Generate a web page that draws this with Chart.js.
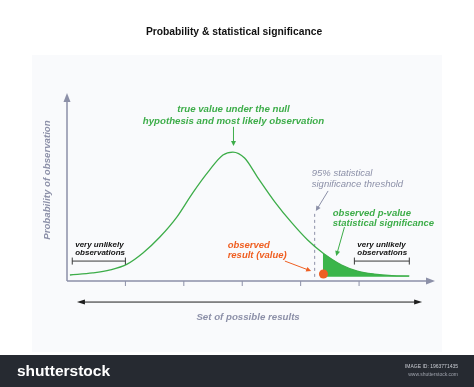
<!DOCTYPE html>
<html>
<head>
<meta charset="utf-8">
<script src="https://cdn.jsdelivr.net/npm/chart.js"></script>
<style>
  html, body { margin: 0; padding: 0; background: #fff; }
  canvas { display: block; }
</style>
</head>
<body>
<canvas id="chart" width="474" height="387"></canvas>
<script>
// Distribution of possible results under the null hypothesis.
// x: position along "set of possible results", y: probability (0..100)
const curveX = [0.05, 0.44, 0.74, 1.03, 1.30, 1.59, 1.88, 2.15, 2.44, 2.67, 2.84,
                3.04, 3.26, 3.56, 3.85, 4.12, 4.38, 4.70, 4.97, 5.26, 5.56, 5.86];
const curveY = [3.2, 4.3, 5.9, 9.0, 14.9, 23.4, 34.0, 46.8, 59.0, 67.0, 68.6,
                65.4, 55.3, 42.0, 30.9, 21.8, 14.9, 8.5, 5.3, 3.7, 2.9, 2.7];
const xTicks = [1, 2, 3, 4, 5];
const tailFrom = 4.38;          // observed p-value area starts here
const tailFloor = 2.2;
const thresholdX = 4.24;        // 95% significance threshold
const thresholdTop = 36.2;
const observed = { x: 4.39, y: 3.7 };

const GREEN = '#3dad49';
const ORANGE = '#ef5f22';
const GREY = '#8c90a8';
const FONT = '"Liberation Sans", Arial, sans-serif';

const curve = curveX.map((x, i) => ({ x, y: curveY[i] }));
const tail = curve.filter(p => p.x >= tailFrom);

function arrow(ctx, x1, y1, x2, y2, color, len, half, width) {
    const a = Math.atan2(y2 - y1, x2 - x1);
    ctx.save();
    ctx.strokeStyle = color;
    ctx.fillStyle = color;
    ctx.lineWidth = width || 1;
    ctx.beginPath();
    ctx.moveTo(x1, y1);
    ctx.lineTo(x2 - Math.cos(a) * len * 0.8, y2 - Math.sin(a) * len * 0.8);
    ctx.stroke();
    ctx.beginPath();
    ctx.moveTo(x2, y2);
    ctx.lineTo(x2 - Math.cos(a) * len - Math.sin(a) * half, y2 - Math.sin(a) * len + Math.cos(a) * half);
    ctx.lineTo(x2 - Math.cos(a) * len + Math.sin(a) * half, y2 - Math.sin(a) * len - Math.cos(a) * half);
    ctx.closePath();
    ctx.fill();
    ctx.restore();
}

function text(ctx, str, x, y, font, color, align) {
    ctx.font = font;
    ctx.fillStyle = color;
    ctx.textAlign = align || 'left';
    ctx.textBaseline = 'middle';
    ctx.fillText(str, x, y);
}

function bracket(ctx, x1, x2, y) {
    ctx.save();
    ctx.strokeStyle = '#3a3a3a';
    ctx.lineWidth = 1;
    ctx.beginPath();
    ctx.moveTo(x1, y); ctx.lineTo(x2, y);
    ctx.moveTo(x1, y - 3.5); ctx.lineTo(x1, y + 3.5);
    ctx.moveTo(x2, y - 3.5); ctx.lineTo(x2, y + 3.5);
    ctx.stroke();
    ctx.restore();
}

const backdrop = {
    id: 'backdrop',
    beforeDraw(chart) {
        const ctx = chart.ctx;
        ctx.save();
        ctx.fillStyle = '#fff';
        ctx.fillRect(0, 0, chart.width, chart.height);
        ctx.fillStyle = '#f9fafc';
        ctx.fillRect(32, 55, 410, 297);
        // footer bar
        ctx.fillStyle = '#262a31';
        ctx.fillRect(0, 355, chart.width, 32);
        text(ctx, 'shutterstock', 17, 372, 'bold 15.5px ' + FONT, '#fff');
        text(ctx, 'IMAGE ID: 1963771435', 458, 367, '5px ' + FONT, '#c9ccd3', 'right');
        text(ctx, 'www.shutterstock.com', 458, 375, '5px ' + FONT, '#9ea2ab', 'right');
        // title
        text(ctx, 'Probability & statistical significance', 234, 32, 'bold 10.3px ' + FONT, '#111', 'center');
        ctx.restore();
    },
    beforeDatasetsDraw(chart) {
        const ctx = chart.ctx;
        const X = v => chart.scales.x.getPixelForValue(v);
        const Y = v => chart.scales.y.getPixelForValue(v);
        const x0 = X(0), y0 = Y(0);
        ctx.save();
        ctx.strokeStyle = GREY;
        ctx.lineWidth = 1.5;
        ctx.beginPath();
        ctx.moveTo(x0, y0); ctx.lineTo(x0, Y(100) + 6);
        ctx.moveTo(x0, y0); ctx.lineTo(X(6.3) - 6, y0);
        ctx.stroke();
        ctx.fillStyle = GREY;
        ctx.beginPath();
        ctx.moveTo(x0, Y(100)); ctx.lineTo(x0 - 3.5, Y(100) + 9); ctx.lineTo(x0 + 3.5, Y(100) + 9);
        ctx.closePath(); ctx.fill();
        ctx.beginPath();
        ctx.moveTo(X(6.3), y0); ctx.lineTo(X(6.3) - 9, y0 - 3.5); ctx.lineTo(X(6.3) - 9, y0 + 3.5);
        ctx.closePath(); ctx.fill();
        ctx.lineWidth = 1;
        ctx.beginPath();
        xTicks.forEach(t => { ctx.moveTo(X(t), y0); ctx.lineTo(X(t), y0 + 5); });
        ctx.stroke();
        ctx.restore();
    },
    afterDatasetsDraw(chart) {
        const ctx = chart.ctx;
        const X = v => chart.scales.x.getPixelForValue(v);
        const Y = v => chart.scales.y.getPixelForValue(v);
        const bi = s => 'italic bold ' + s + 'px ' + FONT;

        // peak annotation
        text(ctx, 'true value under the null', X(2.85), Y(91.5), bi(9.7), GREEN, 'center');
        text(ctx, 'hypothesis and most likely observation', X(2.85), Y(85.1), bi(9.7), GREEN, 'center');
        arrow(ctx, X(2.85), Y(82), X(2.85), Y(71.8), GREEN, 5, 2.5, 1);

        // threshold annotation
        text(ctx, '95% statistical', X(4.19), Y(57.4), 'italic 9.5px ' + FONT, GREY);
        text(ctx, 'significance threshold', X(4.19), Y(51.6), 'italic 9.5px ' + FONT, GREY);
        arrow(ctx, X(4.47), Y(47.9), X(4.26), Y(37.2), GREY, 5, 2.5, 1);

        // p-value annotation
        text(ctx, 'observed p-value', X(4.55), Y(36.2), bi(9.5), GREEN);
        text(ctx, 'statistical significance', X(4.55), Y(30.9), bi(9.5), GREEN);
        arrow(ctx, X(4.75), Y(28.7), X(4.61), Y(13.3), GREEN, 5, 2.5, 1);

        // observed result annotation
        text(ctx, 'observed', X(2.75), Y(19.1), bi(9.5), ORANGE);
        text(ctx, 'result (value)', X(2.75), Y(13.8), bi(9.5), ORANGE);
        arrow(ctx, X(3.73), Y(10.6), X(4.18), Y(5.3), ORANGE, 5, 2.5, 1);

        // very unlikely observations, both tails
        text(ctx, 'very unlikely', X(0.14), Y(19.1), bi(8), '#111');
        text(ctx, 'observations', X(0.14), Y(14.9), bi(8), '#111');
        bracket(ctx, X(0.09), X(1.0), Y(10.6));
        text(ctx, 'very unlikely', X(4.97), Y(19.1), bi(8), '#111');
        text(ctx, 'observations', X(4.97), Y(14.9), bi(8), '#111');
        bracket(ctx, X(4.92), X(5.86), Y(10.6));

        // set of possible results
        const yb = Y(-11.2);
        ctx.save();
        ctx.strokeStyle = '#1e1e1e';
        ctx.lineWidth = 1;
        ctx.beginPath(); ctx.moveTo(X(0.17) + 4, yb); ctx.lineTo(X(6.08) - 4, yb); ctx.stroke();
        ctx.fillStyle = '#1e1e1e';
        ctx.beginPath(); ctx.moveTo(X(0.17), yb); ctx.lineTo(X(0.17) + 8, yb - 2.5); ctx.lineTo(X(0.17) + 8, yb + 2.5); ctx.closePath(); ctx.fill();
        ctx.beginPath(); ctx.moveTo(X(6.08), yb); ctx.lineTo(X(6.08) - 8, yb - 2.5); ctx.lineTo(X(6.08) - 8, yb + 2.5); ctx.closePath(); ctx.fill();
        ctx.restore();
        text(ctx, 'Set of possible results', X(3.1), Y(-19.1), bi(9.7), GREY, 'center');

        ctx.save();
        ctx.translate(X(-0.33), Y(53.7));
        ctx.rotate(-Math.PI / 2);
        text(ctx, 'Probability of observation', 0, 0, bi(9.7), GREY, 'center');
        ctx.restore();
    }
};

new Chart(document.getElementById('chart'), {
    type: 'line',
    data: {
        datasets: [
            {   // observed result dot
                type: 'scatter',
                data: [observed],
                pointRadius: 4.5,
                pointBackgroundColor: ORANGE,
                pointBorderWidth: 0,
                order: 0
            },
            {   // null distribution
                data: curve,
                borderColor: GREEN,
                borderWidth: 1.3,
                pointRadius: 0,
                cubicInterpolationMode: 'monotone',
                fill: false,
                order: 1
            },
            {   // p-value tail area
                data: tail,
                borderWidth: 0,
                pointRadius: 0,
                backgroundColor: '#3bb54a',
                cubicInterpolationMode: 'monotone',
                fill: { value: tailFloor },
                order: 2
            },
            {   // threshold
                data: [{ x: thresholdX, y: tailFloor }, { x: thresholdX, y: thresholdTop }],
                borderColor: GREY,
                borderWidth: 1,
                borderDash: [3, 3],
                pointRadius: 0,
                order: 3
            }
        ]
    },
    options: {
        responsive: false,
        animation: false,
        layout: { padding: { left: 67, right: 39, top: 93, bottom: 106 } },
        plugins: { legend: { display: false }, tooltip: { enabled: false }, title: { display: false } },
        scales: {
            x: { type: 'linear', min: 0, max: 6.3, display: false },
            y: { min: 0, max: 100, display: false }
        }
    },
    plugins: [backdrop]
});
</script>
</body>
</html>
